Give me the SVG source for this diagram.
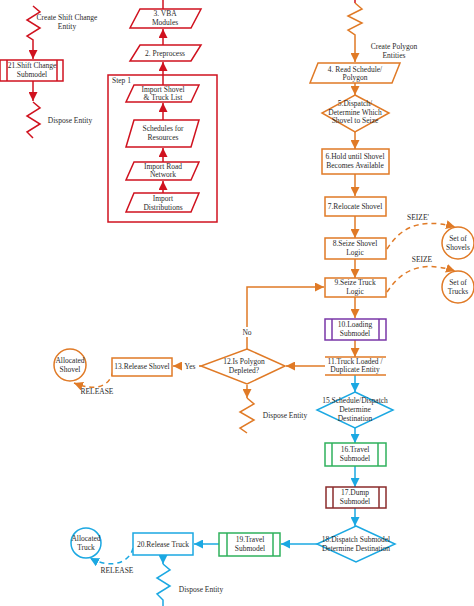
<svg xmlns="http://www.w3.org/2000/svg" width="474" height="606" viewBox="0 0 474 606">
<style>
text{font-family:"Liberation Serif","Times New Roman",serif;font-size:7.5px;fill:#2a2a2a;text-anchor:middle}
.l{text-anchor:start}
.r{fill:none;stroke:#d0121f;stroke-width:1.5}
.o{fill:none;stroke:#e07a26;stroke-width:1.5}
.b{fill:none;stroke:#1ba8e2;stroke-width:1.5}
.g{fill:none;stroke:#2fb15c;stroke-width:1.5}
.p{fill:none;stroke:#7a37a8;stroke-width:1.5}
.d{fill:none;stroke:#8a2b2b;stroke-width:1.5}
.nr{fill:#fff;stroke:#d0121f;stroke-width:1.5}
.no{fill:#fff;stroke:#e07a26;stroke-width:1.5}
.nb{fill:#fff;stroke:#1ba8e2;stroke-width:1.5}
.ng{fill:#fff;stroke:#2fb15c;stroke-width:1.5}
.np{fill:#fff;stroke:#7a37a8;stroke-width:1.5}
.nd{fill:#fff;stroke:#8a2b2b;stroke-width:1.5}
.dash{stroke-dasharray:5,4}
</style>
<defs>
<marker id="ar" viewBox="0 0 10 10" refX="10" refY="5" markerWidth="9" markerHeight="9" markerUnits="userSpaceOnUse" orient="auto"><path d="M0,0L10,5L0,10z" fill="#d0121f"/></marker>
<marker id="ao" viewBox="0 0 10 10" refX="10" refY="5" markerWidth="9" markerHeight="9" markerUnits="userSpaceOnUse" orient="auto"><path d="M0,0L10,5L0,10z" fill="#e07a26"/></marker>
<marker id="ab" viewBox="0 0 10 10" refX="10" refY="5" markerWidth="9" markerHeight="9" markerUnits="userSpaceOnUse" orient="auto"><path d="M0,0L10,5L0,10z" fill="#1ba8e2"/></marker>
</defs>

<g id="connectors">
<polyline class="r" points="33,6 40,12 27,20 40,28 27,36 33,40 33,59" marker-end="url(#ar)"/>
<line class="r" x1="33" y1="81" x2="33" y2="101" marker-end="url(#ar)"/>
<polyline class="r" points="33,102 40,108 27,116 40,124 27,132 33,138"/>
<line class="r" x1="163" y1="193" x2="163" y2="181" marker-end="url(#ar)"/>
<line class="r" x1="163" y1="162" x2="163" y2="148" marker-end="url(#ar)"/>
<line class="r" x1="163" y1="120" x2="163" y2="103" marker-end="url(#ar)"/>
<line class="r" x1="163" y1="85" x2="163" y2="62" marker-end="url(#ar)"/>
<line class="r" x1="163" y1="45" x2="163" y2="29" marker-end="url(#ar)"/>
<line class="r" x1="163" y1="9" x2="163" y2="0"/>
<line class="r" x1="355" y1="0" x2="355" y2="3"/>
<polyline class="o" points="355,3 362,9 348,16 362,23 348,30 355,35 355,62" marker-end="url(#ao)"/>
<line class="o" x1="355" y1="83" x2="355" y2="95" marker-end="url(#ao)"/>
<line class="o" x1="355" y1="132" x2="355" y2="149" marker-end="url(#ao)"/>
<line class="o" x1="355" y1="174" x2="355" y2="196" marker-end="url(#ao)"/>
<line class="o" x1="355" y1="216" x2="355" y2="238" marker-end="url(#ao)"/>
<line class="o" x1="355" y1="259" x2="355" y2="278" marker-end="url(#ao)"/>
<line class="o" x1="355" y1="297" x2="355" y2="318" marker-end="url(#ao)"/>
<line class="o" x1="355" y1="340" x2="355" y2="357" marker-end="url(#ao)"/>
<line class="o" x1="325" y1="366" x2="286" y2="366" marker-end="url(#ao)"/>
<polyline class="o" points="247,349 247,287 324,287" marker-end="url(#ao)"/>
<line class="o" x1="201" y1="366" x2="173" y2="366" marker-end="url(#ao)"/>
<line class="o" x1="247" y1="385" x2="247" y2="398" marker-end="url(#ao)"/>
<polyline class="o" points="247,398 254,404 240,412 254,420 240,428 247,433"/>
<path class="o dash" d="M387,249 C398,232 415,216 455,227" marker-end="url(#ao)"/>
<path class="o dash" d="M387,292 C398,276 415,258 455,271" marker-end="url(#ao)"/>
<path class="o dash" d="M113,371 C110,386 97,392 74,383" marker-end="url(#ao)"/>
<line class="b" x1="355" y1="375" x2="355" y2="392" marker-end="url(#ab)"/>
<line class="b" x1="355" y1="428" x2="355" y2="443" marker-end="url(#ab)"/>
<line class="b" x1="355" y1="466" x2="355" y2="487" marker-end="url(#ab)"/>
<line class="b" x1="355" y1="508" x2="355" y2="526" marker-end="url(#ab)"/>
<line class="b" x1="317" y1="544" x2="281" y2="544" marker-end="url(#ab)"/>
<line class="b" x1="219" y1="544" x2="194" y2="544" marker-end="url(#ab)"/>
<line class="b" x1="163" y1="555" x2="163" y2="564" marker-end="url(#ab)"/>
<polyline class="b" points="163,564 170,570 157,578 170,586 157,594 163,600 163,606"/>
<path class="b dash" d="M133,548 C130,562 112,570 90,558" marker-end="url(#ab)"/>
</g>

<g id="labels">
<text x="67" y="20">Create Shift Change</text>
<text x="67" y="29">Entity</text>
<text x="70" y="123">Dispose Entity</text>
<text x="394" y="49">Create Polygon</text>
<text x="394" y="58">Entities</text>
<rect x="406" y="213" width="25" height="9" fill="#fff"/>
<text x="418" y="220">SEIZE'</text>
<rect x="409" y="255" width="26" height="9" fill="#fff"/>
<text x="422" y="262">SEIZE</text>
<rect x="239" y="327" width="16" height="10" fill="#fff"/>
<text x="247" y="335">No</text>
<rect x="182" y="361" width="17" height="10" fill="#fff"/>
<text x="190" y="369">Yes</text>
<text x="97" y="394">RELEASE</text>
<text x="285" y="418">Dispose Entity</text>
<text x="117" y="573">RELEASE</text>
<text x="201" y="592">Dispose Entity</text>
</g>

<g id="n21"><rect class="nr" x="0" y="60" width="63" height="21"/><line class="r" x1="7" y1="60" x2="7" y2="81"/><line class="r" x1="57" y1="60" x2="57" y2="81"/><text x="32" y="68">21.Shift Change</text><text x="32" y="77">Submodel</text></g>

<g id="step1"><rect class="r" x="108" y="75" width="109" height="147"/><text class="l" x="112" y="83">Step 1</text></g>
<g id="n3"><polygon class="nr" points="140,9 201,9 191,28 130,28"/><text x="165" y="16">3. VBA</text><text x="165" y="25">Modules</text></g>
<g id="n2"><polygon class="nr" points="140,45 201,45 191,61 130,61"/><text x="165" y="56">2. Preprocess</text></g>
<g id="nimp1"><polygon class="nr" points="134,85 199,85 191,102 126,102"/><text x="163" y="92">Import Shovel</text><text x="163" y="100">&amp; Truck List</text></g>
<g id="nsched"><polygon class="nr" points="134,120 199,120 191,147 126,147"/><text x="163" y="131">Schedules for</text><text x="163" y="140">Resources</text></g>
<g id="nroad"><polygon class="nr" points="134,162 199,162 191,180 126,180"/><text x="163" y="169">Import Road</text><text x="163" y="177">Network</text></g>
<g id="ndist"><polygon class="nr" points="134,193 199,193 191,212 126,212"/><text x="163" y="201">Import</text><text x="163" y="210">Distributions</text></g>

<g id="n4"><polygon class="no" points="318,63 400,63 392,83 310,83"/><text x="355" y="72">4. Read Schedule/</text><text x="355" y="80">Polygon</text></g>
<g id="n5"><polygon class="no" points="355,95 389,113 355,132 322,113"/><text x="355" y="106">5.Dispatch/</text><text x="355" y="115">Determine Which</text><text x="355" y="123">Shovel to Seize</text></g>
<g id="n6"><rect class="no" x="322" y="149" width="67" height="25"/><text x="355" y="159">6.Hold until Shovel</text><text x="355" y="168">Becomes Available</text></g>
<g id="n7"><rect class="no" x="325" y="197" width="61" height="19"/><text x="355" y="209">7.Relocate Shovel</text></g>
<g id="n8"><rect class="no" x="325" y="238" width="61" height="21"/><text x="355" y="246">8.Seize Shovel</text><text x="355" y="255">Logic</text></g>
<g id="n9"><rect class="no" x="325" y="278" width="61" height="19"/><text x="355" y="285">9.Seize Truck</text><text x="355" y="294">Logic</text></g>
<g id="n10"><rect class="np" x="325" y="319" width="61" height="21"/><line class="p" x1="332" y1="319" x2="332" y2="340"/><line class="p" x1="379" y1="319" x2="379" y2="340"/><text x="355" y="327">10.Loading</text><text x="355" y="336">Submodel</text></g>
<g id="n11"><line class="o" x1="325" y1="357" x2="386" y2="357"/><line class="o" x1="325" y1="375" x2="386" y2="375"/><text x="355" y="364">11.Truck Loaded /</text><text x="355" y="372">Duplicate Entity</text></g>
<g id="n12"><polygon class="no" points="247,349 285,366 247,384 201,366"/><text x="244" y="364">12.Is Polygon</text><text x="244" y="373">Depleted?</text></g>
<g id="n13"><rect class="no" x="112" y="358" width="60" height="18"/><text x="142" y="369">13.Release Shovel</text></g>
<g id="nas"><circle class="no" cx="70" cy="365" r="16"/><text x="70" y="363">Allocated</text><text x="70" y="372">Shovel</text></g>
<g id="nss"><circle class="no" cx="458" cy="243" r="16"/><text x="458" y="241">Set of</text><text x="458" y="250">Shovels</text></g>
<g id="nst"><circle class="no" cx="458" cy="287" r="16"/><text x="458" y="285">Set of</text><text x="458" y="294">Trucks</text></g>

<g id="n15"><polygon class="nb" points="355,392 393,410 355,428 317,410"/><text x="355" y="403">15.Schedule/Dispatch</text><text x="355" y="412">Determine</text><text x="355" y="421">Destination</text></g>
<g id="n16"><rect class="ng" x="325" y="443" width="61" height="23"/><line class="g" x1="332" y1="443" x2="332" y2="466"/><line class="g" x1="378" y1="443" x2="378" y2="466"/><text x="355" y="452">16.Travel</text><text x="355" y="461">Submodel</text></g>
<g id="n17"><rect class="nd" x="326" y="487" width="60" height="21"/><line class="d" x1="333" y1="487" x2="333" y2="508"/><line class="d" x1="379" y1="487" x2="379" y2="508"/><text x="355" y="495">17.Dump</text><text x="355" y="504">Submodel</text></g>
<g id="n18"><polygon class="nb" points="356,526 395,544 356,562 317,544"/><text x="356" y="542">18.Dispatch Submodel</text><text x="356" y="551">Determine Destination</text></g>
<g id="n19"><rect class="ng" x="219" y="533" width="61" height="23"/><line class="g" x1="227" y1="533" x2="227" y2="556"/><line class="g" x1="273" y1="533" x2="273" y2="556"/><text x="250" y="542">19.Travel</text><text x="250" y="551">Submodel</text></g>
<g id="n20"><rect class="nb" x="133" y="533" width="60" height="22"/><text x="163" y="547">20.Release Truck</text></g>
<g id="nat"><circle class="nb" cx="86" cy="543" r="15"/><text x="86" y="541">Allocated</text><text x="86" y="550">Truck</text></g>
</svg>
